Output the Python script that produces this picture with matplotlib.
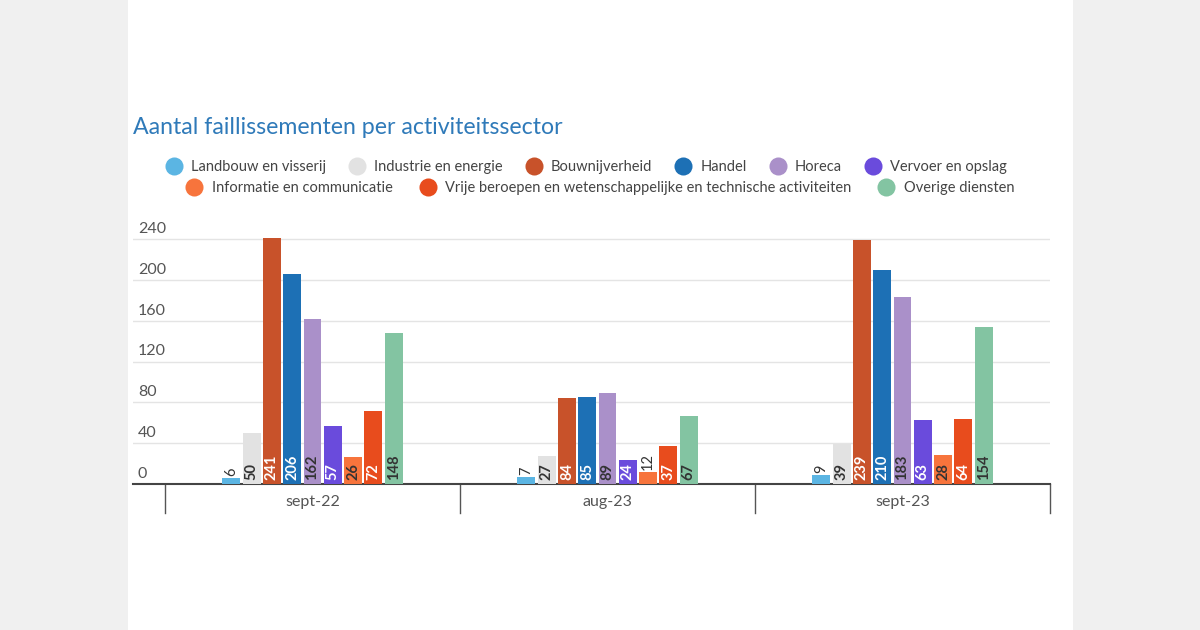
import numpy as np
import matplotlib
matplotlib.use("Agg")
import matplotlib.pyplot as plt
from matplotlib.patches import Rectangle
from matplotlib.lines import Line2D

plt.rcParams["font.family"] = ["Lato", "DejaVu Sans"]

# data
periods = ["sept-22", "aug-23", "sept-23"]
sectors = [
    "Landbouw en visserij",
    "Industrie en energie",
    "Bouwnijverheid",
    "Handel",
    "Horeca",
    "Vervoer en opslag",
    "Informatie en communicatie",
    "Vrije beroepen en wetenschappelijke en technische activiteiten",
    "Overige diensten",
]
values = [
    [6, 7, 9],
    [50, 27, 39],
    [241, 84, 239],
    [206, 85, 210],
    [162, 89, 183],
    [57, 24, 63],
    [26, 12, 28],
    [72, 37, 64],
    [148, 67, 154],
]
yticks = [0, 40, 80, 120, 160, 200, 240]

colors = ["#5bb5e3", "#e2e2e2", "#c8522a", "#1d70b5", "#aa90c9",
          "#6a4bdc", "#f7743c", "#e84c1d", "#83c4a2"]
label_colors = ["#333333", "#333333", "white", "white", "#333333",
                "white", "#333333", "white", "#333333"]

fig = plt.figure(figsize=(12, 6.3), dpi=100)
fig.patch.set_facecolor("#f0f0f0")
fig.patches.append(Rectangle((128 / 1200, 0), 945 / 1200, 1, transform=fig.transFigure,
                             facecolor="white", edgecolor="none", zorder=-5))

ax = fig.add_axes([133 / 1200, 146 / 630, 917 / 1200, 255.2 / 630])
ax.set_facecolor("none")

x = np.arange(len(periods))
pitch = 0.0688
width = 0.061
n = len(sectors)
for i in range(n):
    xs = x + (i - (n - 1) / 2) * pitch
    ax.bar(xs, values[i], width=width, color=colors[i], zorder=3)
    for xv, v in zip(xs, values[i]):
        if v >= 20:
            ax.text(xv, 4, str(v), rotation=90, ha="center", va="bottom",
                    fontsize=10.5, fontweight="bold", color=label_colors[i], zorder=4)
        else:
            ax.text(xv, v + 2, str(v), rotation=90, ha="center", va="bottom",
                    fontsize=10.5, color="#333333", zorder=4)

ax.set_xlim(-0.5 - 32 / 295, 2.5)
ax.set_ylim(0, 250)
ax.set_yticks(yticks)
ax.set_yticklabels([])
ax.tick_params(axis="y", length=0)
ax.grid(axis="y", color="#e4e4e4", linewidth=1, zorder=0)
for t in yticks:
    ax.text(5 / 917, t + 3, str(t), transform=ax.get_yaxis_transform(),
            ha="left", va="bottom", fontsize=11.5, color="#555555")

for s in ["top", "right", "left"]:
    ax.spines[s].set_visible(False)
ax.spines["bottom"].set_color("#444444")
ax.spines["bottom"].set_linewidth(1.5)
ax.set_xticks(x)
ax.set_xticklabels(periods, fontsize=11.5, color="#555555")
ax.tick_params(axis="x", length=0, pad=8)
for b in np.arange(-0.5, 3.0, 1.0):
    ax.plot([b, b], [0, -28], color="#555555", linewidth=1, clip_on=False)

fig.text(133 / 1200, 1 - 128 / 630, "Aantal faillissementen per activiteitssector",
         fontsize=16.7, color="#2f7ab9", va="center", ha="left")

def make_handles(idx):
    return [Line2D([], [], marker="o", linestyle="none", markersize=13,
                   markerfacecolor=colors[k], markeredgecolor="none") for k in idx]

row1 = [0, 1, 2, 3, 4, 5]
row2 = [6, 7, 8]
fig.legend(make_handles(row1), [sectors[k] for k in row1], ncol=6,
           loc="center", bbox_to_anchor=(586 / 1200, 1 - 167 / 630),
           frameon=False, fontsize=10.5, handletextpad=0.6, columnspacing=1.5,
           labelcolor="#444444", borderpad=0, handlelength=1.2)
fig.legend(make_handles(row2), [sectors[k] for k in row2], ncol=3,
           loc="center", bbox_to_anchor=(600 / 1200, 1 - 188 / 630),
           frameon=False, fontsize=10.5, handletextpad=0.6, columnspacing=1.8,
           labelcolor="#444444", borderpad=0, handlelength=1.2)

fig.savefig("out.png", dpi=100, facecolor=fig.get_facecolor())
